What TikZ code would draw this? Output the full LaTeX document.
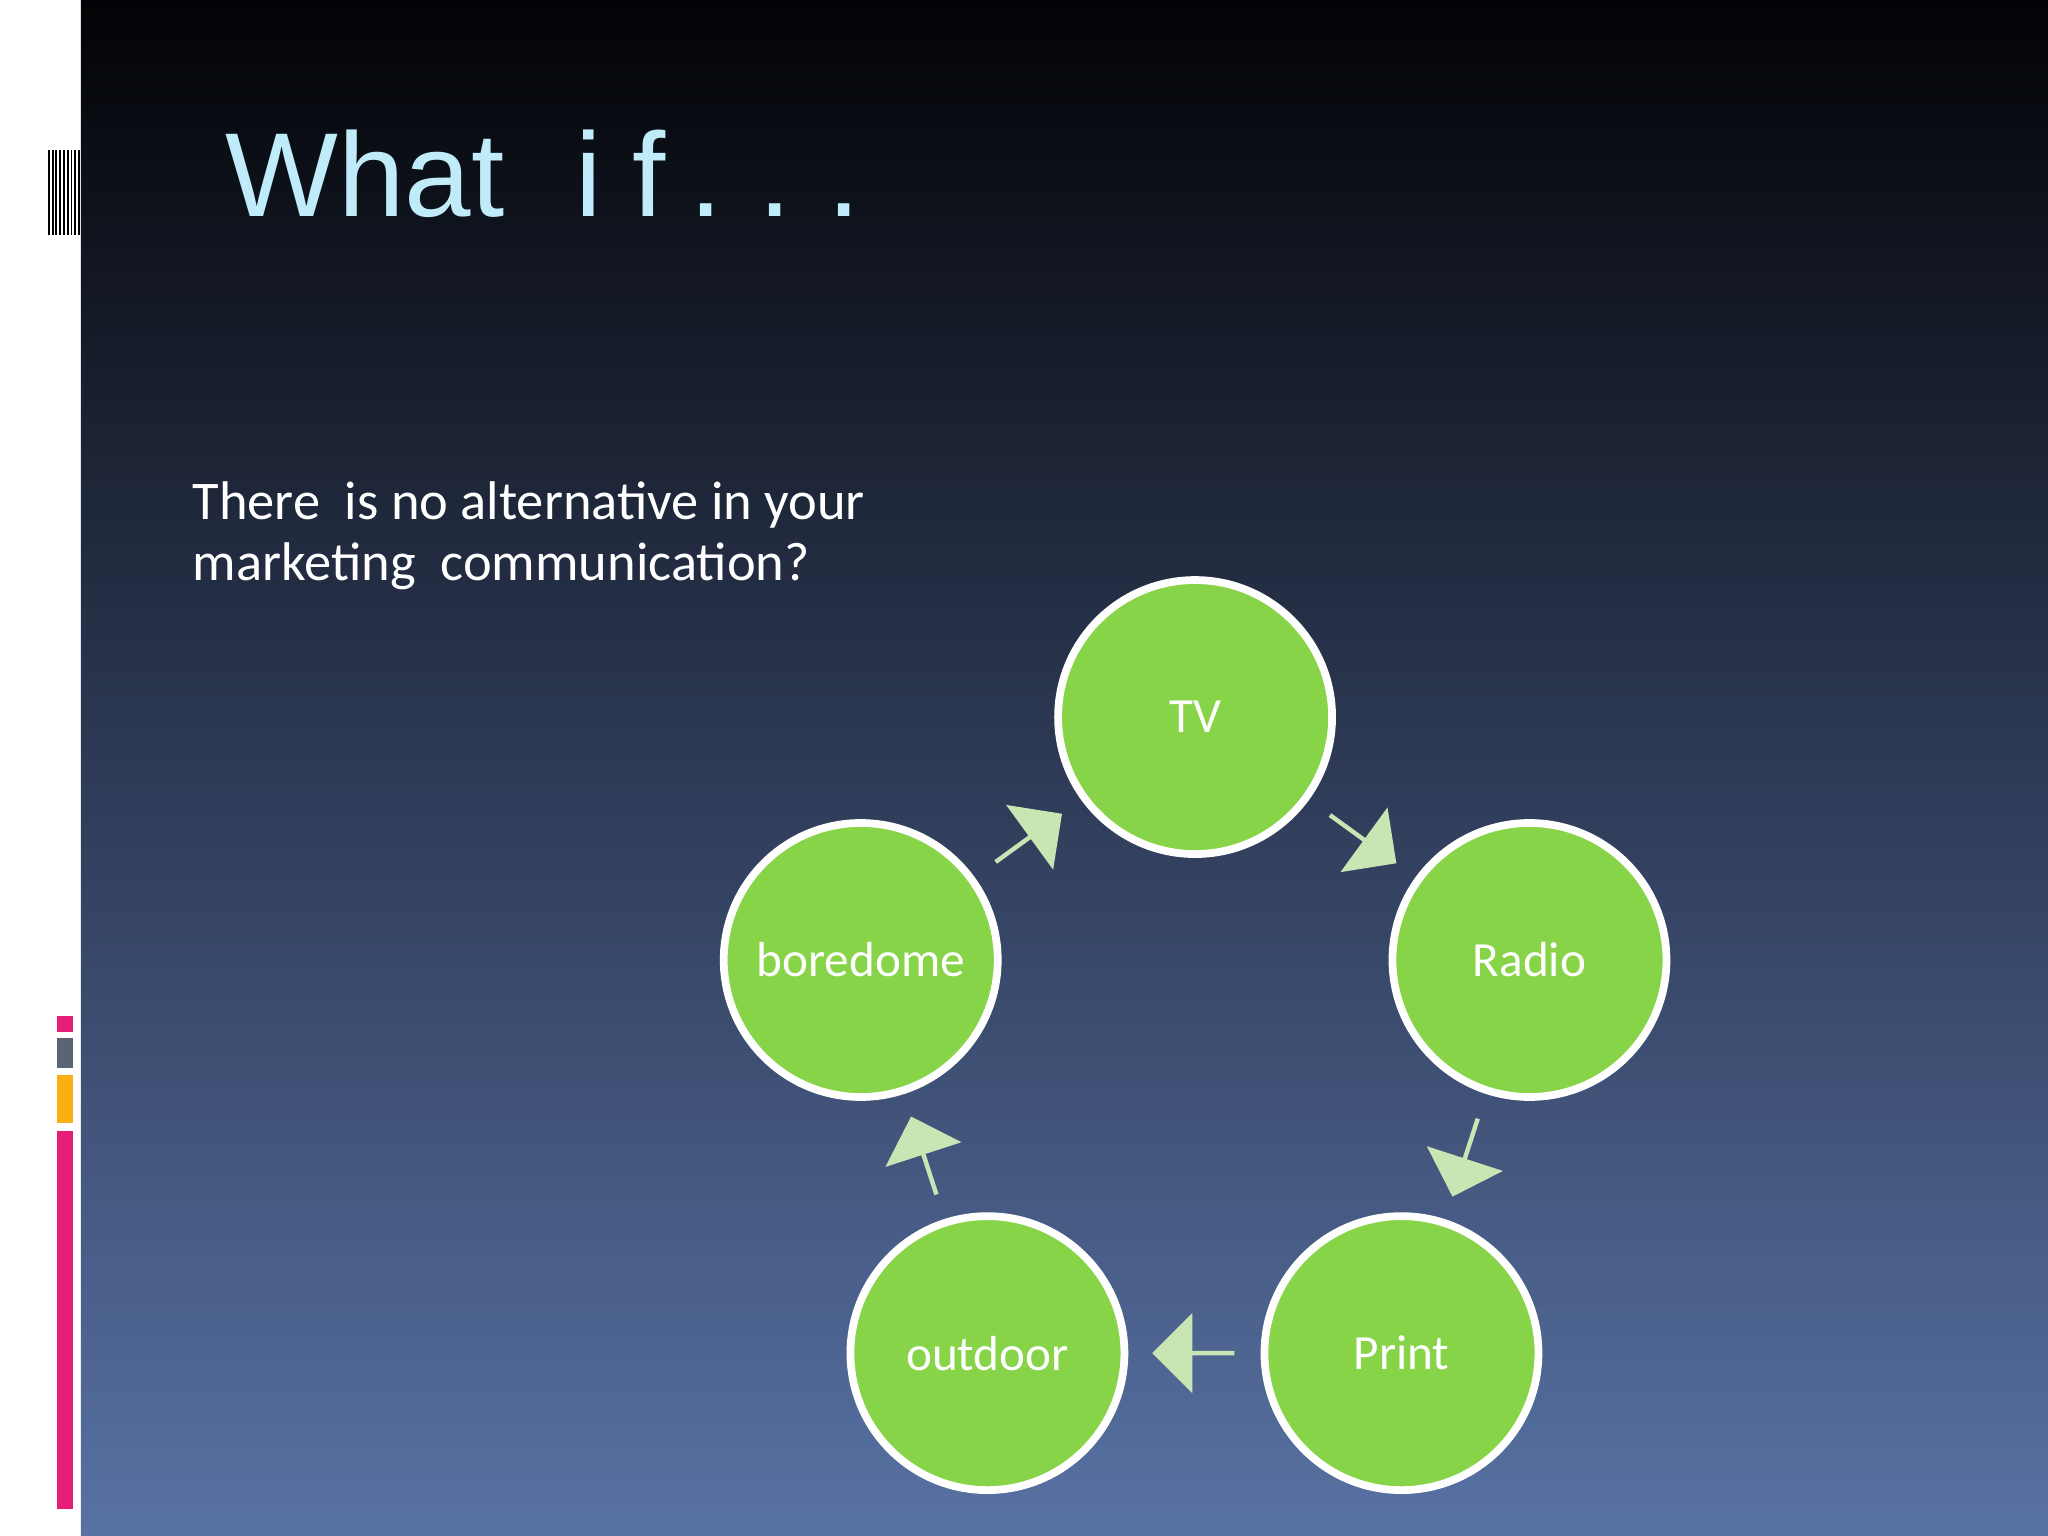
\documentclass[tikz,border=0pt]{standalone}
\usepackage{fontspec}
\setmainfont{Carlito}
\newfontfamily\titlefont{Liberation Sans}
\usetikzlibrary{shapes.arrows,calc}
\definecolor{circfill}{RGB}{136,212,72}
\definecolor{arrfill}{RGB}{199,230,180}
\definecolor{titlecol}{RGB}{192,236,250}
\definecolor{bgtop}{RGB}{2,3,5}
\definecolor{bgmid}{RGB}{46,58,86}
\definecolor{bgbot}{RGB}{88,114,164}
\definecolor{barpink}{RGB}{230,30,120}
\definecolor{bargray}{RGB}{90,100,115}
\definecolor{barorange}{RGB}{250,175,20}
\tikzset{
  medium/.style={circle, fill=circfill, draw=white, line width=2.2pt,
    minimum size=2.74cm, text=white, font=\fontsize{14}{16}\selectfont},
  flow/.style={single arrow, fill=arrfill, draw=none, minimum width=0.8cm,
    minimum height=0.82cm, single arrow head extend=0.12cm, inner sep=0pt}
}
\begin{document}
\begin{tikzpicture}[x=0.01306cm, y=-0.01306cm]
  \useasboundingbox (0,0) rectangle (1568,1176);
  % background
  \fill[white] (0,0) rectangle (62,1176);
  \shade[top color=bgtop, bottom color=bgbot, middle color=bgmid] (62,0) rectangle (1568,1176);
  % left marks
  \foreach \x in {37,40,42,45,48,51,54,57,60}
    \fill[black] (\x,115) rectangle (\x+1.5,180);
  \fill[barpink] (44,778) rectangle (56,790);
  \fill[bargray] (44,795) rectangle (56,818);
  \fill[barorange] (44,823) rectangle (56,860);
  \fill[barpink] (44,866) rectangle (56,1155);
  % title and text
  \node[anchor=base west, text=titlecol, inner sep=0pt,
    font=\titlefont\fontsize{34}{40}\selectfont] (title) at (172,166)
    {What\hspace{0.6em}i\hspace{0.25em}f\hspace{0.2em}.\hspace{0.3em}.\hspace{0.3em}.};
  \node[anchor=north west, text=white, align=left, inner sep=0pt,
    font=\fontsize{15.5}{17.5}\selectfont] (question) at (147,368)
    {There\ \ is no alternative in your\\marketing\ \ communication?};
  % cycle
  \node[medium] (tv) at (915,549) {TV};
  \node[medium] (radio) at (1171,735) {Radio};
  \node[medium] (print) at (1073,1036) {Print};
  \node[medium] (outdoor) at (756,1036) {outdoor};
  \node[medium] (boredome) at (659,735) {boredome};
  \node[flow, rotate=-36] (a1) at ($(tv)!0.5!(radio)$) {};
  \node[flow, rotate=-108] (a2) at ($(radio)!0.5!(print)$) {};
  \node[flow, rotate=180] (a3) at ($(print)!0.5!(outdoor)$) {};
  \node[flow, rotate=108] (a4) at ($(outdoor)!0.5!(boredome)$) {};
  \node[flow, rotate=36] (a5) at ($(boredome)!0.5!(tv)$) {};
\end{tikzpicture}
\end{document}
